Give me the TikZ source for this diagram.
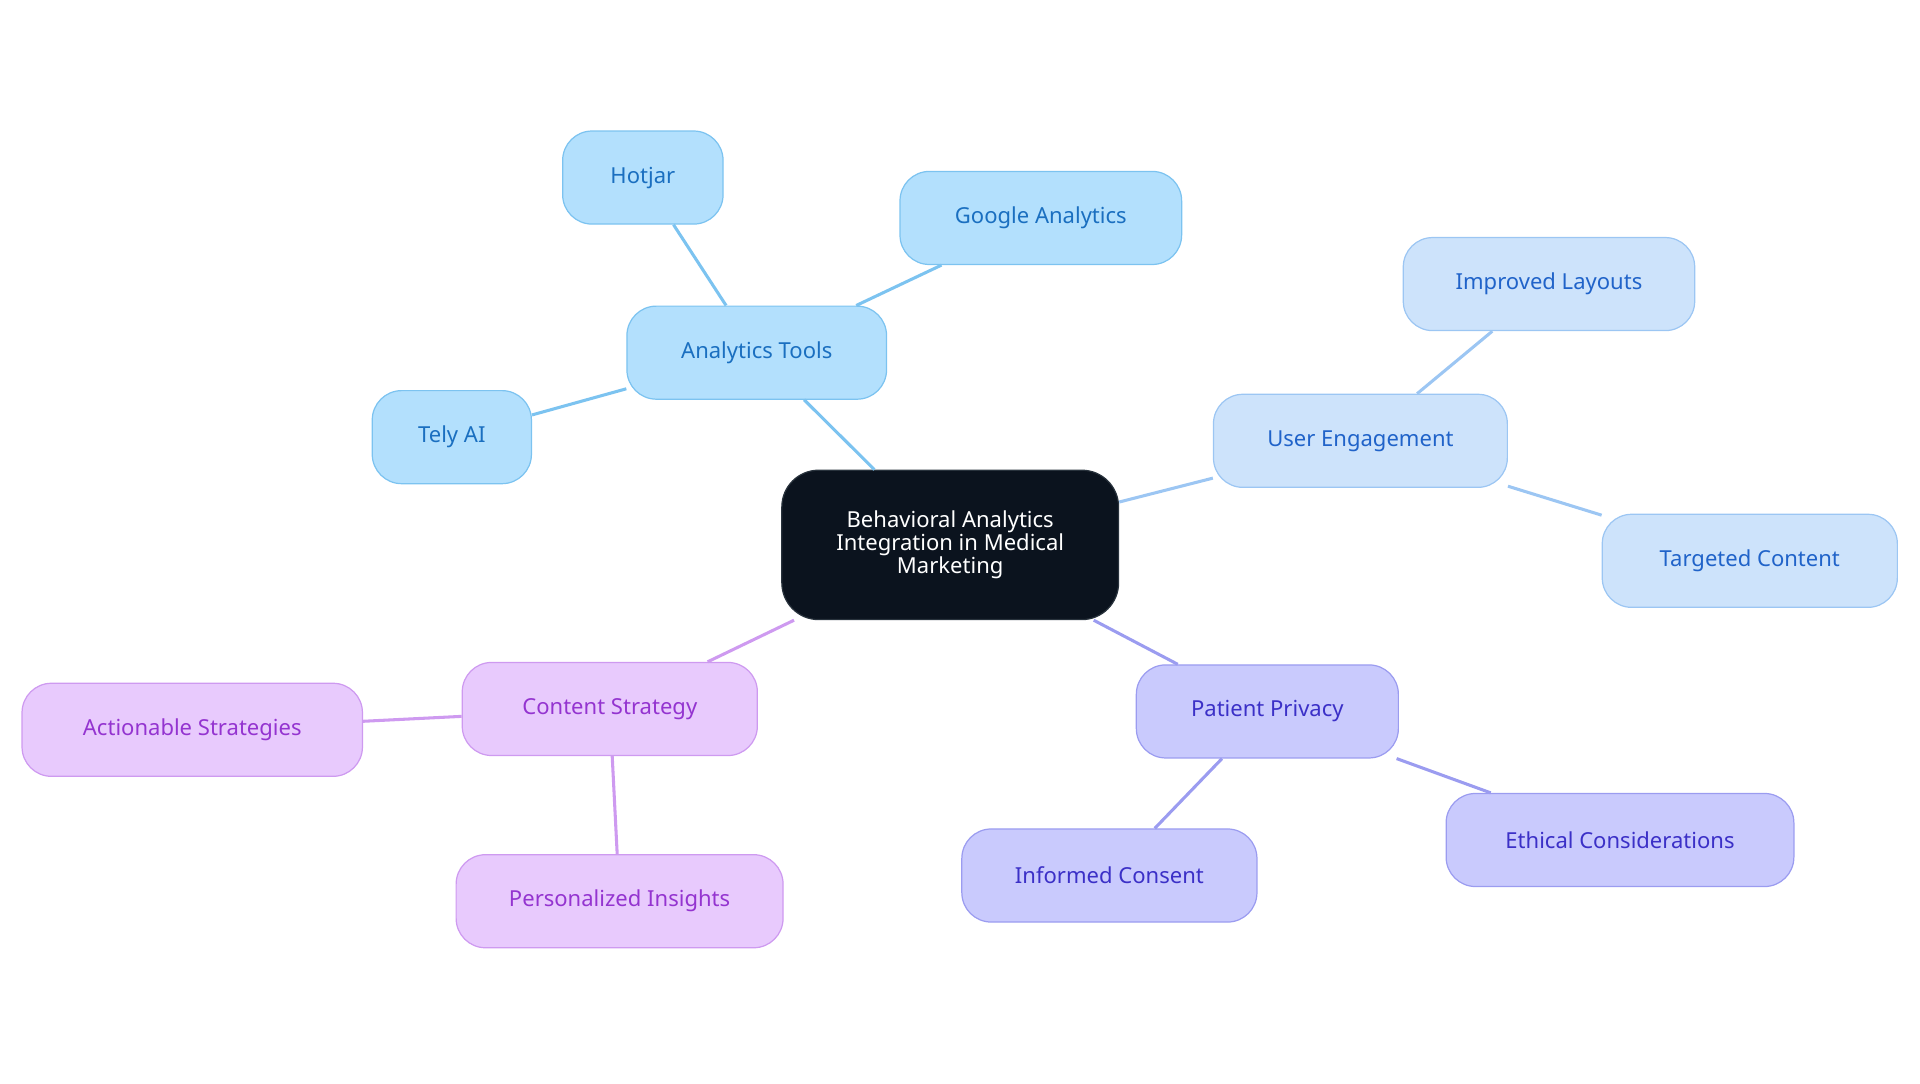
\documentclass[tikz,border=0pt]{standalone}
\usepackage{fontspec}
\setmainfont{Noto Sans}
\begin{document}
\begin{tikzpicture}[x=1pt,y=-1pt,
 b/.style={rounded corners=24pt,minimum height=76pt,inner sep=0pt,line width=1pt,font=\fontsize{18}{22}\selectfont,align=center},
 c1/.style={b,fill={rgb,255:red,179;green,224;blue,253},draw={rgb,255:red,124;green,195;blue,240},text={rgb,255:red,26;green,111;blue,192}},
 c2/.style={b,fill={rgb,255:red,205;green,227;blue,251},draw={rgb,255:red,156;green,198;blue,243},text={rgb,255:red,32;green,99;blue,201}},
 c3/.style={b,fill={rgb,255:red,201;green,202;blue,253},draw={rgb,255:red,155;green,156;blue,240},text={rgb,255:red,59;green,48;blue,199}},
 c4/.style={b,fill={rgb,255:red,232;green,202;blue,253},draw={rgb,255:red,206;green,154;blue,240},text={rgb,255:red,148;green,52;blue,208}},
 e1/.style={line width=2.5pt,draw={rgb,255:red,124;green,195;blue,240}},
 e2/.style={line width=2.5pt,draw={rgb,255:red,156;green,198;blue,243}},
 e3/.style={line width=2.5pt,draw={rgb,255:red,155;green,156;blue,240}},
 e4/.style={line width=2.5pt,draw={rgb,255:red,206;green,154;blue,240}}]
\useasboundingbox (0,0) rectangle (1568,885);
\node[b,fill={rgb,255:red,11;green,19;blue,30},draw={rgb,255:red,40;green,50;blue,60},text=white,minimum width=275pt,minimum height=122pt,rounded corners=30pt] (m) at (776,445) {Behavioral Analytics\\[-3pt]Integration in Medical\\[-3pt]Marketing};
\node[c1,minimum width=212pt] (at) at (618,288) {Analytics Tools};
\node[c1,minimum width=131pt] (hj) at (525,145) {Hotjar};
\node[c1,minimum width=230pt] (ga) at (850,178) {Google Analytics};
\node[c1,minimum width=130pt] (ta) at (369,357) {Tely AI};
\node[c2,minimum width=240pt] (ue) at (1111,360) {User Engagement};
\node[c2,minimum width=238pt] (il) at (1265,232) {Improved Layouts};
\node[c2,minimum width=241pt] (tc) at (1429,458) {Targeted Content};
\node[c3,minimum width=214pt] (pp) at (1035,581) {Patient Privacy};
\node[c3,minimum width=241pt] (ic) at (906,715) {Informed Consent};
\node[c3,minimum width=284pt] (ec) at (1323,686) {Ethical Considerations};
\node[c4,minimum width=241pt] (cs) at (498,579) {Content Strategy};
\node[c4,minimum width=278pt] (as) at (157,596) {Actionable Strategies};
\node[c4,minimum width=267pt] (pi) at (506,736) {Personalized Insights};
\begin{scope}[on background layer/.style={}]
\end{scope}
\draw[e1] (m) -- (at); \draw[e1] (at) -- (hj); \draw[e1] (at) -- (ga); \draw[e1] (at) -- (ta);
\draw[e2] (m) -- (ue); \draw[e2] (ue) -- (il); \draw[e2] (ue) -- (tc);
\draw[e3] (m) -- (pp); \draw[e3] (pp) -- (ic); \draw[e3] (pp) -- (ec);
\draw[e4] (m) -- (cs); \draw[e4] (cs) -- (as); \draw[e4] (cs) -- (pi);
\end{tikzpicture}
\end{document}
